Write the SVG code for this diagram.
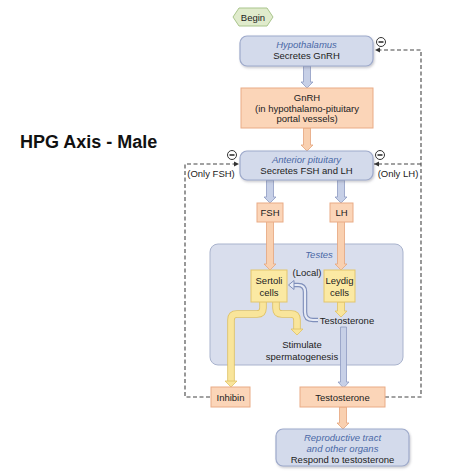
<svg xmlns="http://www.w3.org/2000/svg" width="474" height="475" viewBox="0 0 474 475">
<defs>
<style>
text{font-family:"Liberation Sans",Arial,sans-serif;font-size:9.5px;fill:#222;text-anchor:middle}
.it{font-style:italic;fill:#4a68a6}
.title{font-size:18px;font-weight:bold;text-anchor:start;fill:#111}
.blue{fill:#d3daeb;stroke:#9eaacb;stroke-width:1.2}
.peach{fill:#fbd5b8;stroke:#e9ab86;stroke-width:1}
.yellow{fill:#fbe9a3;stroke:#e3c56c;stroke-width:1}
.testes{fill:#d9deed;stroke:#a9b3cd;stroke-width:1}
.ab{fill:#c7d0e7;stroke:#8e9bc2;stroke-width:0.8}
.ap{fill:#f9d0b0;stroke:#e5a47c;stroke-width:0.8}
.ay{fill:#f9e59b;stroke:#e0c263;stroke-width:0.8}
.dash{fill:none;stroke:#444;stroke-width:1.1;stroke-dasharray:4,2.5}
.minus circle{fill:#fff;stroke:#333;stroke-width:1}
.minus line{stroke:#333;stroke-width:1.6}
</style>
<marker id="dh" markerWidth="6" markerHeight="6" refX="5" refY="3" orient="auto" markerUnits="userSpaceOnUse">
<path d="M0,0.5 L5,3 L0,5.5 Z" fill="#333"/>
</marker>
<filter id="sh" x="-10%" y="-10%" width="130%" height="140%">
<feDropShadow dx="1" dy="1.5" stdDeviation="1" flood-color="#667" flood-opacity="0.35"/>
</filter>
</defs>

<text class="title" x="20" y="148">HPG Axis - Male</text>

<g id="testes">
<rect class="testes" x="210" y="244" width="193" height="121" rx="8"/>
<text class="it" x="319" y="257.5">Testes</text>
</g>

<g id="connectors">
<polygon class="ab" points="303.5,66 310.5,66 310.5,82 313,82 307,88 301,82 303.5,82"/>
<polygon class="ap" points="303.5,128 310.5,128 310.5,145 313,145 307,151 301,145 303.5,145"/>
<polygon class="ab" points="266.5,180 273.5,180 273.5,197 276,197 270,203 264,197 266.5,197"/>
<polygon class="ab" points="337.5,180 344.5,180 344.5,197 347,197 341,203 335,197 337.5,197"/>
<polygon class="ap" points="266.5,221 273.5,221 273.5,264 276,264 270,270 264,264 266.5,264"/>
<polygon class="ap" points="337.5,221 344.5,221 344.5,264 347,264 341,270 335,264 337.5,264"/>
<polygon class="ay" points="337.5,302 344.5,302 344.5,311 347,311 341,317 335,311 337.5,311"/>
<polygon class="ab" points="340.5,327 346.5,327 346.5,382 349,382 343.5,388 338,382 340.5,382"/>
<polygon class="ap" points="339.5,407 346.5,407 346.5,423 349,423 343,429 337,423 339.5,423"/>
<path d="M263,302 V308 Q263,314 257,314 H237 Q231,314 231,320 V381" fill="none" stroke="#e0c263" stroke-width="7.5"/>
<path d="M263,302 V308 Q263,314 257,314 H237 Q231,314 231,320 V381.5" fill="none" stroke="#f9e59b" stroke-width="5.8"/>
<polygon class="ay" points="225,381 237,381 231,387"/>
<path d="M276,302 V308 Q276,314 282,314 H291 Q297,314 297,320 V329" fill="none" stroke="#e0c263" stroke-width="7.5"/>
<path d="M276,302 V308 Q276,314 282,314 H291 Q297,314 297,320 V329.5" fill="none" stroke="#f9e59b" stroke-width="5.8"/>
<polygon class="ay" points="291,329 303,329 297,335"/>
<path d="M318,320 H313 Q305,320 305,312 V292 Q305,285 298,285 H293" fill="none" stroke="#7f8fbb" stroke-width="4.5"/>
<path d="M318,320 H313 Q305,320 305,312 V292 Q305,285 298,285 H293" fill="none" stroke="#e6eaf5" stroke-width="2.2"/>
<polygon points="294,280.5 294,289.5 288.5,285" fill="#e6eaf5" stroke="#7f8fbb" stroke-width="1"/>
<path class="dash" d="M385,397 H421 V50 H375" marker-end="url(#dh)"/>
<path class="dash" d="M421,164 H374" marker-end="url(#dh)"/>
<path class="dash" d="M210,397 H185 V164 H239" marker-end="url(#dh)"/>
</g>

<g id="begin">
<polygon points="233,17 239,8 267,8 273,17 267,26 239,26" fill="#e0ebcc" stroke="#a9c58c" stroke-width="1"/>
<text x="253" y="20.5">Begin</text>
</g>

<g id="hypothalamus">
<rect class="blue" x="240" y="36" width="133" height="30" rx="7" filter="url(#sh)"/>
<text class="it" x="306.5" y="48">Hypothalamus</text>
<text x="306.5" y="59">Secretes GnRH</text>
</g>
<g class="minus" id="minus1"><circle cx="381" cy="42" r="4.5"/><line x1="378.5" y1="42" x2="383.5" y2="42"/></g>

<g id="gnrh">
<rect class="peach" x="241" y="88" width="132" height="40"/>
<text x="307" y="101">GnRH</text>
<text x="307" y="112">(in hypothalamo-pituitary</text>
<text x="307" y="122">portal vessels)</text>
</g>

<g id="pituitary">
<rect class="blue" x="240" y="151" width="133" height="29" rx="7" filter="url(#sh)"/>
<text class="it" x="306.5" y="163">Anterior pituitary</text>
<text x="306.5" y="174">Secretes FSH and LH</text>
</g>
<g class="minus" id="minus2"><circle cx="232" cy="155" r="4.5"/><line x1="229.5" y1="155" x2="234.5" y2="155"/></g>
<g class="minus" id="minus3"><circle cx="380" cy="155" r="4.5"/><line x1="377.5" y1="155" x2="382.5" y2="155"/></g>
<text x="211" y="176.5">(Only FSH)</text>
<text x="398" y="176.5">(Only LH)</text>

<g id="fsh">
<rect class="peach" x="257" y="203" width="26" height="19"/>
<text x="270" y="216">FSH</text>
</g>
<g id="lh">
<rect class="peach" x="330" y="203" width="23" height="19"/>
<text x="341.5" y="216">LH</text>
</g>

<g id="sertoli">
<rect class="yellow" x="251" y="270" width="36" height="32"/>
<text x="269" y="284">Sertoli</text>
<text x="269" y="296">cells</text>
</g>
<g id="leydig">
<rect class="yellow" x="324" y="270" width="31" height="32"/>
<text x="339.5" y="284">Leydig</text>
<text x="339.5" y="296">cells</text>
</g>
<text x="307" y="276">(Local)</text>
<text x="347" y="323.5">Testosterone</text>
<text x="302" y="348">Stimulate</text>
<text x="302" y="360">spermatogenesis</text>

<g id="inhibin">
<rect class="peach" x="211" y="387" width="39" height="20"/>
<text x="230.5" y="400.5">Inhibin</text>
</g>
<g id="testosterone">
<rect class="peach" x="300" y="387" width="85" height="20"/>
<text x="342.5" y="400.5">Testosterone</text>
</g>

<g id="reproductive">
<rect class="blue" x="276" y="429" width="133" height="37" rx="7" filter="url(#sh)"/>
<text class="it" x="342.5" y="441">Reproductive tract</text>
<text class="it" x="342.5" y="452">and other organs</text>
<text x="342.5" y="462.5">Respond to testosterone</text>
</g>
</svg>
